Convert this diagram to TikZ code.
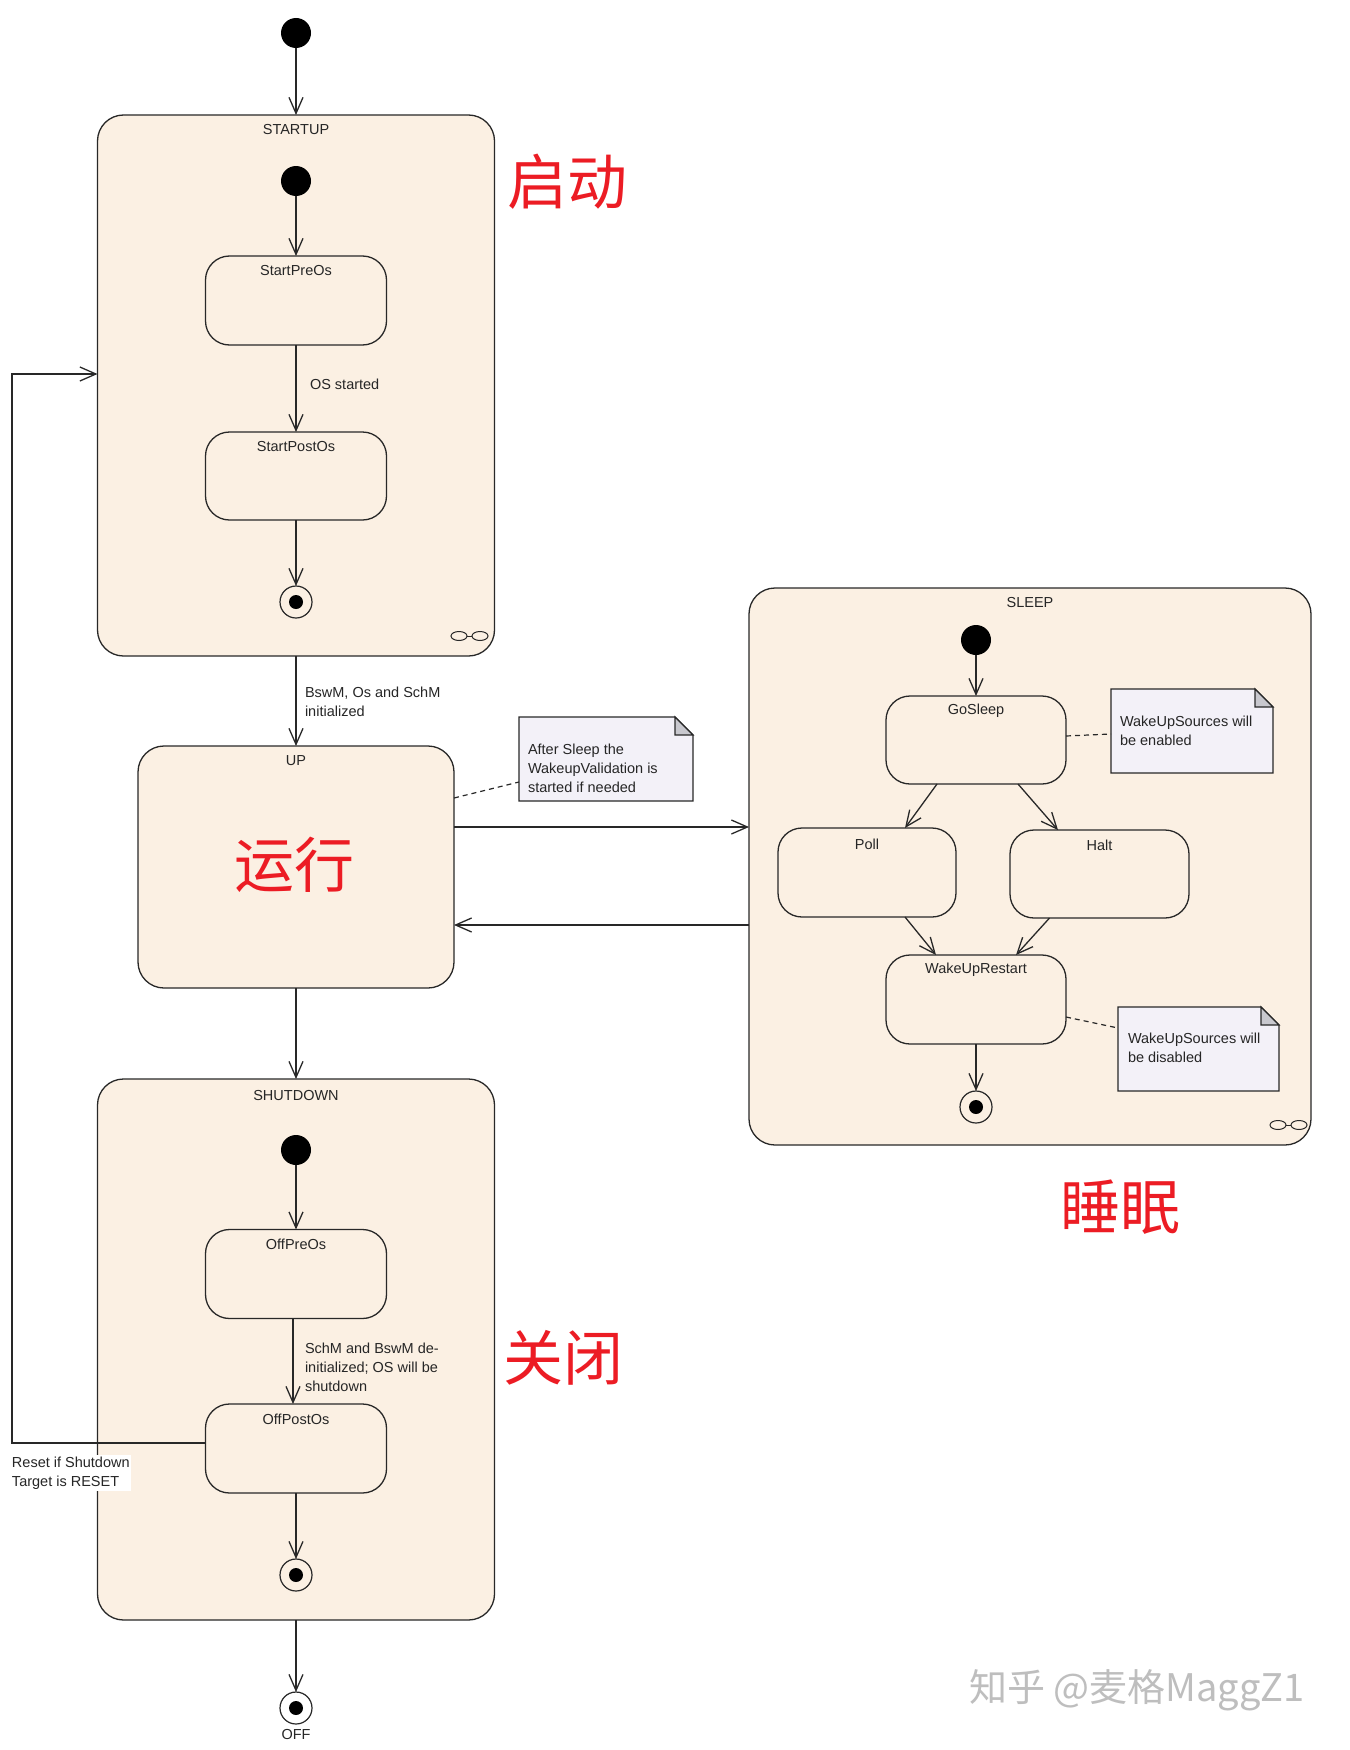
\documentclass[tikz,border=0pt]{standalone}
\usepackage{fontspec}
\setmainfont{Liberation Sans}
\newfontfamily\cjk{Noto Sans CJK SC}
\usetikzlibrary{arrows.meta,calc}
\definecolor{boxfill}{RGB}{251,240,227}
\definecolor{notefill}{RGB}{243,241,248}
\definecolor{foldfill}{RGB}{200,200,206}
\definecolor{linec}{RGB}{40,40,40}
\definecolor{redtxt}{RGB}{236,28,36}
\definecolor{wmark}{RGB}{190,190,190}
\begin{document}
\begin{tikzpicture}[x=1pt,y=-1pt,
  every node/.style={inner sep=0pt,outer sep=0pt},
  lbl/.style={font=\fontsize{14.5}{19}\selectfont,text=black!85},
  outerstate/.style={draw=linec,line width=1.3pt,fill=boxfill,rounded corners=26pt},
  innerstate/.style={draw=linec,line width=1.3pt,fill=boxfill,rounded corners=24pt},
  initdot/.style={circle,fill=black,minimum size=30pt},
  finalst/.style={circle,draw=linec,line width=1.2pt,minimum size=32pt,
    path picture={\fill[black] (path picture bounding box.center) circle (7pt);}},
  arr/.style={draw=linec,line width=1.3pt,-{Straight Barb[length=16pt,width=14pt]}},
  notelink/.style={draw=linec,line width=1.2pt,dash pattern=on 5pt off 4pt},
  notebg/.style={draw=none,minimum width=#1},
  redlab/.style={font=\cjk\fontsize{60}{60}\selectfont,text=redtxt},
  glass/.style={draw=linec,line width=1pt}
]
\useasboundingbox (0,0) rectangle (1349,1750);
\fill[white] (0,0) rectangle (1349,1750);

% ---------- STARTUP ----------
\node[initdot] (i0) at (296,33) {};
\node[outerstate,minimum width=397pt,minimum height=541pt] (startup) at (296,385.5) {};
\node[lbl] (startupl) at ([yshift=-15pt]startup.north) {STARTUP};
\node[initdot] (i1) at (296,181) {};
\node[innerstate,minimum width=181pt,minimum height=89pt] (startpre) at (296,300.5) {};
\node[lbl] (startprel) at ([yshift=-15pt]startpre.north) {StartPreOs};
\node[innerstate,minimum width=181pt,minimum height=88pt] (startpost) at (296,476) {};
\node[lbl] (startpostl) at ([yshift=-15pt]startpost.north) {StartPostOs};
\node[finalst] (f1) at (296,602) {};
\draw[glass] (459,636) ellipse [x radius=8pt,y radius=4.5pt];
\draw[glass] (480,636) ellipse [x radius=8pt,y radius=4.5pt];
\draw[glass] (467,636) -- (472,636);

\draw[arr] (i0) -- (startup.north);
\draw[arr] (i1) -- (startpre.north);
\draw[arr] (startpre.south) -- (startpost.north);
\node[lbl,anchor=west] (osl) at (310,384) {OS started};
\draw[arr] (startpost.south) -- (f1);

\node[redlab] (qidong) at (567,182) {启动};

% ---------- UP ----------
\node[outerstate,minimum width=316pt,minimum height=242pt] (up) at (296,867) {};
\node[lbl] (upl) at ([yshift=-15pt]up.north) {UP};
\node[redlab] (yunxing) at (294,865) {运行};
\draw[arr] (startup.south) -- (up.north);
\node[lbl,anchor=west,align=left] (initl) at (305,702) {BswM, Os and SchM\\initialized};

% note 1
\node[notebg,minimum width=174pt,minimum height=84pt] (n1) at (606,759) {};
\path[draw=linec,line width=1.1pt,fill=notefill] (n1.south west) -- (n1.north west) -- ([xshift=-18pt]n1.north east) -- ([yshift=-18pt]n1.north east) -- (n1.south east) -- cycle;
\path[draw=linec,line width=1.1pt,fill=foldfill] ([xshift=-18pt]n1.north east) -- ([yshift=-18pt]n1.north east) -- ([xshift=-18pt,yshift=-18pt]n1.north east) -- cycle;
\node[lbl,anchor=west,align=left] (n1t) at (528,768) {After Sleep the\\WakeupValidation is\\started if needed};
\draw[notelink] ([yshift=69pt]up.east) -- ([yshift=-23pt]n1.west);

% ---------- SLEEP ----------
\node[outerstate,minimum width=562pt,minimum height=557pt] (sleep) at (1030,866.5) {};
\node[lbl] (sleepl) at ([yshift=-15pt]sleep.north) {SLEEP};
\node[initdot] (i2) at (976,640) {};
\node[innerstate,minimum width=180pt,minimum height=88pt] (gosleep) at (976,740) {};
\node[lbl] (gosleepl) at ([yshift=-15pt]gosleep.north) {GoSleep};
\node[innerstate,minimum width=178pt,minimum height=89pt] (poll) at (867,872.5) {};
\node[lbl] (polll) at ([yshift=-16pt]poll.north) {Poll};
\node[innerstate,minimum width=179pt,minimum height=88pt] (halt) at (1099.5,874) {};
\node[lbl] (haltl) at ([yshift=-15pt]halt.north) {Halt};
\node[innerstate,minimum width=180pt,minimum height=89pt] (wur) at (976,999.5) {};
\node[lbl] (wurl) at ([yshift=-15pt]wur.north) {WakeUpRestart};
\node[finalst] (f2) at (976,1107) {};
\draw[glass] (1278,1125) ellipse [x radius=8pt,y radius=4.5pt];
\draw[glass] (1299,1125) ellipse [x radius=8pt,y radius=4.5pt];
\draw[glass] (1286,1125) -- (1291,1125);

\draw[arr] (i2) -- (gosleep.north);
\draw[arr] ([xshift=-39pt]gosleep.south) -- ([xshift=38pt]poll.north);
\draw[arr] ([xshift=42pt]gosleep.south) -- ([xshift=-41.5pt]halt.north);
\draw[arr] ([xshift=38pt]poll.south) -- ([xshift=-40pt]wur.north);
\draw[arr] ([xshift=-50pt]halt.south) -- ([xshift=40pt]wur.north);
\draw[arr] (wur.south) -- (f2);

% note 2
\node[notebg,minimum width=162pt,minimum height=84pt] (n2) at (1192,731) {};
\path[draw=linec,line width=1.1pt,fill=notefill] (n2.south west) -- (n2.north west) -- ([xshift=-18pt]n2.north east) -- ([yshift=-18pt]n2.north east) -- (n2.south east) -- cycle;
\path[draw=linec,line width=1.1pt,fill=foldfill] ([xshift=-18pt]n2.north east) -- ([yshift=-18pt]n2.north east) -- ([xshift=-18pt,yshift=-18pt]n2.north east) -- cycle;
\node[lbl,anchor=west,align=left] (n2t) at (1120,730.5) {WakeUpSources will\\be enabled};
\draw[notelink] ([yshift=4pt]gosleep.east) -- ([yshift=-3pt]n2.west);

% note 3
\node[notebg,minimum width=161pt,minimum height=84pt] (n3) at (1198.5,1049) {};
\path[draw=linec,line width=1.1pt,fill=notefill] (n3.south west) -- (n3.north west) -- ([xshift=-18pt]n3.north east) -- ([yshift=-18pt]n3.north east) -- (n3.south east) -- cycle;
\path[draw=linec,line width=1.1pt,fill=foldfill] ([xshift=-18pt]n3.north east) -- ([yshift=-18pt]n3.north east) -- ([xshift=-18pt,yshift=-18pt]n3.north east) -- cycle;
\node[lbl,anchor=west,align=left] (n3t) at (1128,1048) {WakeUpSources will\\be disabled};
\draw[notelink] ([yshift=-17.5pt]wur.east) -- ([yshift=21pt]n3.west);

\node[redlab] (shuimian) at (1120,1207) {睡眠};

% UP <-> SLEEP
\draw[arr] ([yshift=40pt]up.east) -- ([yshift=40pt]up.east -| sleep.west);
\draw[arr] ([yshift=-58pt]up.east -| sleep.west) -- ([yshift=-58pt]up.east);

% ---------- SHUTDOWN ----------
\node[outerstate,minimum width=397pt,minimum height=541pt] (shutdown) at (296,1349.5) {};
\node[lbl] (shutdownl) at ([yshift=-16pt]shutdown.north) {SHUTDOWN};
\node[initdot] (i3) at (296,1150) {};
\node[innerstate,minimum width=181pt,minimum height=89pt] (offpre) at (296,1274) {};
\node[lbl] (offprel) at ([yshift=-15pt]offpre.north) {OffPreOs};
\node[innerstate,minimum width=181pt,minimum height=89pt] (offpost) at (296,1448.5) {};
\node[lbl] (offpostl) at ([yshift=-15pt]offpost.north) {OffPostOs};
\node[finalst] (f3) at (296,1575) {};
\node[finalst] (f4) at (296,1708) {};
\node[lbl] (offl) at (296,1734) {OFF};

\draw[arr] (up.south) -- (shutdown.north);
\draw[arr] (i3) -- (offpre.north);
\draw[arr] ([xshift=-3pt]offpre.south) -- ([xshift=-3pt]offpost.north);
\node[lbl,anchor=west,align=left] (deinitl) at (305,1367) {SchM and BswM de-\\initialized; OS will be\\shutdown};
\draw[arr] (offpost.south) -- (f3);
\draw[arr] (shutdown.south) -- (f4);

\node[redlab] (guanbi) at (563,1358) {关闭};

% reset loop
\coordinate (rc) at (12,1443);
\draw[arr] ([yshift=5.5pt]offpost.west) -- ([yshift=5.5pt]offpost.west -| rc) |- ([yshift=11.5pt]startup.west);
\node[lbl,anchor=west,align=left,fill=white,inner xsep=1pt,inner ysep=2pt] (resetl) at (11,1473) {Reset if Shutdown\\Target is RESET};

% watermark
\node[font=\cjk\fontsize{38}{38}\selectfont,text=wmark] (wm) at (1137,1690) {知乎 @麦格MaggZ1};
\end{tikzpicture}
\end{document}
